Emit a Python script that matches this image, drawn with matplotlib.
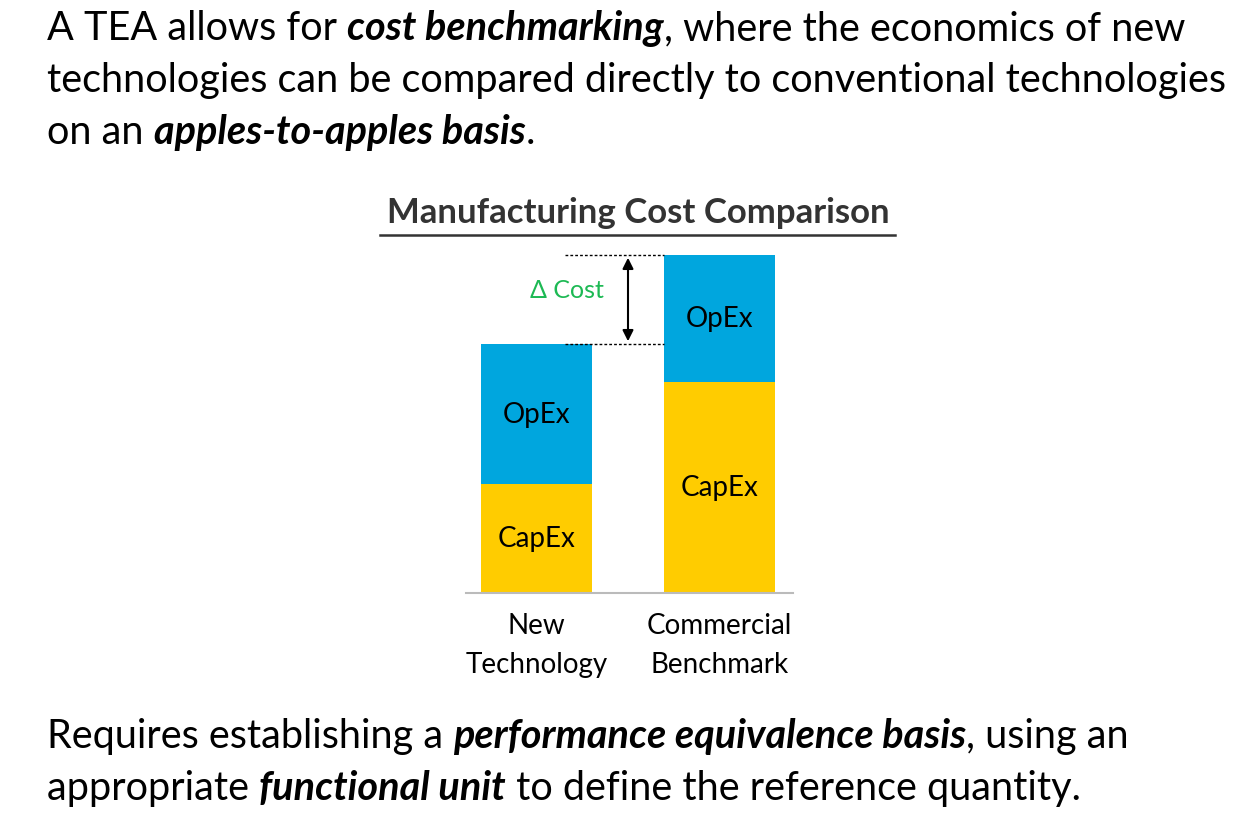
import matplotlib
matplotlib.use("Agg")
import matplotlib.pyplot as plt

W, H = 1260, 820

# data (arbitrary cost units)
categories = ["New\nTechnology", "Commercial\nBenchmark"]
capex = [1.09, 2.11]
opex = [1.40, 1.27]

BLUE = "#00A6DE"
YELLOW = "#FFCC00"
GREEN = "#1DB954"
plt.rcParams['font.family'] = ['Lato', 'DejaVu Sans']

fig = plt.figure(figsize=(W / 100, H / 100), dpi=100)


def fx(x):
    return x / W


def fy(y):
    return 1 - y / H


def rich_line(segments, x0, y0, size=28.5):
    """draw a line of text made of (text, style) pieces, one after another"""
    r = fig.canvas.get_renderer()
    x = fx(x0)
    for txt, sty in segments:
        kw = dict(fontsize=size, va="baseline", ha="left", color="black")
        if sty == "bi":
            kw.update(fontweight="bold", fontstyle="italic")
        t = fig.text(x, fy(y0), txt, **kw)
        bb = t.get_window_extent(renderer=r)
        x += bb.width / W


rich_line([("A TEA allows for ", "n"), ("cost benchmarking", "bi"),
           (", where the economics of new", "n")], 47, 40)
rich_line([("technologies can be compared directly to conventional technologies", "n")], 47, 92)
rich_line([("on an ", "n"), ("apples-to-apples basis", "bi"), (".", "n")], 47, 144)
rich_line([("Requires establishing a ", "n"), ("performance equivalence basis", "bi"),
           (", using an", "n")], 47, 748)
rich_line([("appropriate ", "n"), ("functional unit", "bi"),
           (" to define the reference quantity.", "n")], 47, 800)

# chart axes: baseline at y=594px, top at 256px
ax = fig.add_axes([fx(466), fy(594), fx(793 - 466), (594 - 256) / H])
x = [0, 1]
width = 111 / 183
ax.bar(x, capex, width=width, color=YELLOW)
ax.bar(x, opex, bottom=capex, width=width, color=BLUE)
ax.set_xlim(-70.5 / 183, -70.5 / 183 + 327 / 183)
ax.set_ylim(0, 3.38)
for s in ["top", "right", "left"]:
    ax.spines[s].set_visible(False)
ax.spines["bottom"].set_color("#BBBBBB")
ax.spines["bottom"].set_linewidth(1.5)
ax.set_yticks([])
ax.set_xticks(x)
ax.set_xticklabels(categories, fontsize=20, linespacing=1.6, family=["Lato", "DejaVu Sans"])
ax.tick_params(axis="x", length=0, pad=14)
ax.patch.set_alpha(0)

for i in range(2):
    ax.text(x[i], capex[i] / 2, "CapEx", ha="center", va="center", fontsize=20)
    ax.text(x[i], capex[i] + opex[i] / 2, "OpEx", ha="center", va="center", fontsize=20)

# delta cost marker
top_new = capex[0] + opex[0]
top_com = capex[1] + opex[1]
ax.plot([0.156, 0.697], [top_new, top_new], ls=(0, (2, 1.5)), color="black", lw=1, clip_on=False)
ax.plot([0.156, 0.697], [top_com, top_com], ls=(0, (2, 1.5)), color="black", lw=1, clip_on=False)
ax.annotate("", xy=(0.5, top_com), xytext=(0.5, top_new),
            arrowprops=dict(arrowstyle="<|-|>", color="black", lw=1.5, mutation_scale=16),
            annotation_clip=False)
ax.text(0.167, (top_new + top_com) / 2 + 0.1, "Δ Cost", color=GREEN,
        ha="center", va="center", fontsize=18)

# title with underline
fig.text(fx(638), fy(213), "Manufacturing Cost Comparison", ha="center", va="center",
         fontsize=25, fontweight="bold", color="#333333")
fig.add_artist(plt.Line2D([fx(380), fx(895)], [fy(236), fy(236)], color="#333333", lw=1.8))

fig.savefig("out.png", dpi=100)
